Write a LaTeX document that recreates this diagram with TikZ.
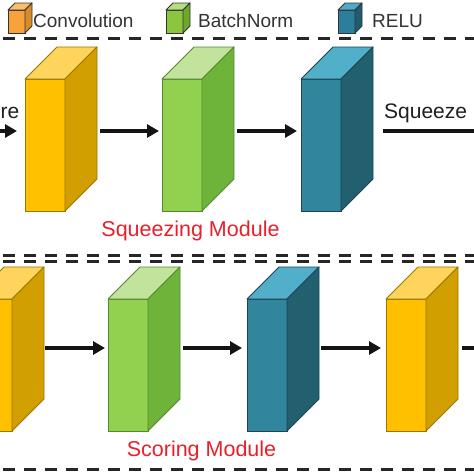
\documentclass[tikz,border=0pt]{standalone}
\usepackage{fontspec}
\setmainfont{Liberation Sans}
\usetikzlibrary{arrows.meta,calc}
\definecolor{orF}{HTML}{FFC000}
\definecolor{orT}{HTML}{FFD45A}
\definecolor{orS}{HTML}{D1A000}
\definecolor{orD}{HTML}{9A7600}
\definecolor{grF}{HTML}{92D050}
\definecolor{grT}{HTML}{C2E39C}
\definecolor{grS}{HTML}{6EB33A}
\definecolor{grD}{HTML}{548A2E}
\definecolor{blF}{HTML}{31859C}
\definecolor{blT}{HTML}{52AFCA}
\definecolor{blS}{HTML}{22606F}
\definecolor{blD}{HTML}{1A4654}
\definecolor{lgOF}{HTML}{F9A23B}
\definecolor{lgOT}{HTML}{FBBE6A}
\definecolor{lgOS}{HTML}{D98A2B}
\definecolor{lgGF}{HTML}{8CC63F}
\definecolor{lgGT}{HTML}{B5DE80}
\definecolor{lgGS}{HTML}{6DA82C}
\definecolor{lgBF}{HTML}{2A7F9C}
\definecolor{lgBT}{HTML}{4FA9C7}
\definecolor{lgBS}{HTML}{1E5C70}
\definecolor{redtxt}{HTML}{E8202A}
\definecolor{txtgray}{HTML}{333333}
\newcommand\cubefaces[5]{%
  \filldraw[fill=#2,draw=#4,line width=0.9pt,line join=round]
    (#1.north west) -- ([shift={(#5,-#5)}]#1.north west) -- ([shift={(#5,-#5)}]#1.north east) -- (#1.north east) -- cycle;
  \filldraw[fill=#3,draw=#4,line width=0.9pt,line join=round]
    (#1.north east) -- ([shift={(#5,-#5)}]#1.north east) -- ([shift={(#5,-#5)}]#1.south east) -- (#1.south east) -- cycle;
}
\tikzset{
  front/.style={draw, line width=0.9pt, inner sep=0pt, outer sep=0pt, minimum width=40pt, minimum height=132pt},
  orcube/.style={front, fill=orF, draw=orD},
  grcube/.style={front, fill=grF, draw=grD},
  blcube/.style={front, fill=blF, draw=blD},
  icon/.style={draw=black!80, line width=0.8pt, inner sep=0pt, outer sep=0pt, minimum width=17pt, minimum height=23pt},
  arr/.style={line width=3.2pt, black!92, -{Triangle[length=12pt,width=13pt]}},
  plainline/.style={line width=3.2pt, black!92},
  dline/.style={line width=3pt, black!85, dash pattern=on 12pt off 9pt, dash phase=18pt},
  legtxt/.style={font=\fontsize{19}{22}\selectfont, text=txtgray, inner sep=0pt, anchor=base west},
  bigtxt/.style={font=\fontsize{21}{25}\selectfont, text=black!88, inner sep=0pt},
  modtxt/.style={font=\fontsize{21.5}{25}\selectfont, text=redtxt, inner sep=0pt, anchor=base},
}
\begin{document}
\begin{tikzpicture}[x=1pt,y=-1pt]
\useasboundingbox (0,0) rectangle (474,474);
\clip (0,0) rectangle (474,474);
\fill[white] (0,0) rectangle (474,474);
% legend
\node[icon, fill=lgOF] (L1) at (16.5,21.5) {};
\cubefaces{L1}{lgOT}{lgOS}{black!80}{7}
\node[legtxt] (T1) at (33,27) {Convolution};
\node[icon, fill=lgGF] (L2) at (174.5,21.5) {};
\cubefaces{L2}{lgGT}{lgGS}{black!80}{7}
\node[legtxt] (T2) at (198,27) {BatchNorm};
\node[icon, fill=lgBF] (L3) at (346.5,21.5) {};
\cubefaces{L3}{lgBT}{lgBS}{black!80}{7}
\node[legtxt] (T3) at (372,27) {RELU};
% dashed separators
\draw[dline] (0,38) -- (474,38);
\draw[dline] (0,255) -- (474,255);
\draw[dline] (0,261) -- (474,261);
\draw[dline] (0,469) -- (474,469);
% squeezing module
\node[orcube] (A1) at (45,145) {};
\cubefaces{A1}{orT}{orS}{orD}{32}
\node[grcube] (B1) at (182,145) {};
\cubefaces{B1}{grT}{grS}{grD}{32}
\node[blcube] (C1) at (321,145) {};
\cubefaces{C1}{blT}{blS}{blD}{32}
\coordinate (in1) at (0,131);
\coordinate (out1) at (474,131);
\node[bigtxt, anchor=base west] (re) at (0.5,118) {re};
\draw[arr] (in1) -- ($(A1.west)+(-8,-14)$);
\draw[arr] ($(A1.east)+(35,-14)$) -- ($(B1.west)+(-3,-14)$);
\draw[arr] ($(B1.east)+(35,-14)$) -- ($(C1.west)+(-4,-14)$);
\draw[plainline] ($(C1.east)+(42,-14)$) -- (out1);
\node[bigtxt, anchor=base west] (sq) at (384,118) {Squeeze};
\node[modtxt] (m1) at (190.5,236) {Squeezing Module};
% scoring module
\node[orcube] (A2) at (-8,365) {};
\cubefaces{A2}{orT}{orS}{orD}{32}
\node[grcube] (B2) at (128,365) {};
\cubefaces{B2}{grT}{grS}{grD}{32}
\node[blcube] (C2) at (267,365) {};
\cubefaces{C2}{blT}{blS}{blD}{32}
\node[orcube] (D2) at (406,365) {};
\cubefaces{D2}{orT}{orS}{orD}{32}
\coordinate (out2) at (474,348);
\draw[arr] ($(A2.east)+(33,-17)$) -- ($(B2.west)+(-3,-17)$);
\draw[arr] ($(B2.east)+(35,-17)$) -- ($(C2.west)+(-5,-17)$);
\draw[arr] ($(C2.east)+(34,-17)$) -- ($(D2.west)+(-5,-17)$);
\draw[plainline] ($(D2.east)+(36,-17)$) -- (out2);
\node[modtxt] (m2) at (201.5,456) {Scoring Module};
\end{tikzpicture}
\end{document}
